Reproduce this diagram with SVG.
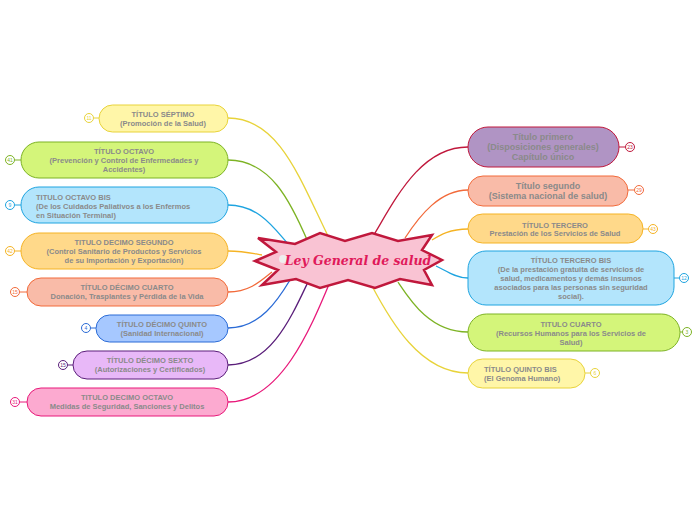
<svg xmlns="http://www.w3.org/2000/svg" width="696" height="520" viewBox="0 0 696 520">
<style>
.t{font-family:"Liberation Sans",Arial,sans-serif;font-size:7.5px;font-weight:bold;fill:#8a8a8a;text-anchor:middle}
.l{text-anchor:start}
.tb{font-family:"Liberation Sans",Arial,sans-serif;font-size:9px;font-weight:bold;fill:#8a8a8a;text-anchor:middle}
.b{fill:#fff;stroke-width:1}
.bt{font-family:"Liberation Sans",Arial,sans-serif;font-size:5px;text-anchor:middle}
.c{fill:none;stroke-width:1.3}
</style>
<rect width="696" height="520" fill="#fff"/>
<g id="connectors">
<path class="c" stroke="#e8d33a" d="M228,118 C280,118 300,180 330,240"/>
<path class="c" stroke="#7db324" d="M228,160 C270,160 290,200 308,242"/>
<path class="c" stroke="#1ea4e0" d="M228,205 C260,205 275,230 290,246"/>
<path class="c" stroke="#f5b324" d="M228,251 C245,251 255,254 262,255"/>
<path class="c" stroke="#f26a3a" d="M228,292 C250,292 262,280 272,272"/>
<path class="c" stroke="#2a6bd6" d="M228,328 C260,328 278,300 290,280"/>
<path class="c" stroke="#5a1e7a" d="M228,365 C270,365 290,320 308,282"/>
<path class="c" stroke="#e8197a" d="M228,402 C280,402 310,330 330,282"/>
<path class="c" stroke="#c0183c" d="M468,147 C420,147 395,200 372,238"/>
<path class="c" stroke="#f26a3a" d="M468,190 C440,190 420,215 405,238"/>
<path class="c" stroke="#f5b324" d="M468,229 C450,229 440,235 432,240"/>
<path class="c" stroke="#1ea4e0" d="M468,278 C455,278 445,270 436,266"/>
<path class="c" stroke="#7db324" d="M468,332 C430,332 410,300 398,282"/>
<path class="c" stroke="#e8d33a" d="M468,373 C420,373 390,320 372,286"/>
<g stroke-width="1">
<line x1="94" y1="118" x2="99" y2="118" stroke="#e8d33a"/>
<line x1="15" y1="160" x2="21" y2="160" stroke="#7db324"/>
<line x1="15" y1="205" x2="21" y2="205" stroke="#1ea4e0"/>
<line x1="15" y1="251" x2="21" y2="251" stroke="#f5b324"/>
<line x1="20" y1="292" x2="27" y2="292" stroke="#f26a3a"/>
<line x1="91" y1="328" x2="96" y2="328" stroke="#2a6bd6"/>
<line x1="68" y1="365" x2="73" y2="365" stroke="#5a1e7a"/>
<line x1="20" y1="402" x2="27" y2="402" stroke="#e8197a"/>
<line x1="619" y1="147" x2="625" y2="147" stroke="#c0183c"/>
<line x1="628" y1="190" x2="634" y2="190" stroke="#f26a3a"/>
<line x1="643" y1="229" x2="648" y2="229" stroke="#f5b324"/>
<line x1="674" y1="278" x2="679" y2="278" stroke="#1ea4e0"/>
<line x1="680" y1="332" x2="682" y2="332" stroke="#7db324"/>
<line x1="585" y1="373" x2="590" y2="373" stroke="#e8d33a"/>
</g>
</g>
<g id="center">
<polygon points="258,238 295,244 320,233 345,241 372,233 398,241 432,235 422,250 442,260 424,270 432,285 400,279 375,288 348,280 320,288 296,279 262,285 278,270 255,261 276,252" fill="#f9c3d3" stroke="#c0183c" stroke-width="2.5" stroke-linejoin="miter"/>
<circle cx="283" cy="259" r="4" fill="#eee"/>
<text x="358" y="265" font-family="'DejaVu Serif',serif" font-style="italic" font-weight="bold" font-size="12.5" fill="#e0195a" text-anchor="middle">Ley General de salud</text>
</g>
<g id="n-septimo"><rect x="99" y="105" width="129" height="27" rx="13.5" fill="#fff6a8" stroke="#e8d33a"/><text class="t" x="163" y="117">TÍTULO SÉPTIMO</text><text class="t" x="163" y="126">(Promoción de la Salud)</text><circle class="b" cx="89" cy="118" r="4.5" stroke="#e8d33a"/><text class="bt" x="89" y="120" fill="#e8d33a">11</text></g>
<g id="n-octavo"><rect x="21" y="142" width="207" height="36" rx="18" fill="#d4f57a" stroke="#7db324"/><text class="t" x="124" y="154">TÍTULO OCTAVO</text><text class="t" x="124" y="163">(Prevención y Control de Enfermedades y</text><text class="t" x="124" y="172">Accidentes)</text><circle class="b" cx="10" cy="160" r="4.5" stroke="#7db324"/><text class="bt" x="10" y="162" fill="#7db324">41</text></g>
<g id="n-octavobis"><rect x="21" y="187" width="207" height="36" rx="18" fill="#b3e5fc" stroke="#1ea4e0"/><text class="t l" x="36" y="200">TITULO OCTAVO BIS</text><text class="t l" x="36" y="209">(De los Cuidados Paliativos a los Enfermos</text><text class="t l" x="36" y="218">en Situación Terminal)</text><circle class="b" cx="10" cy="205" r="4.5" stroke="#1ea4e0"/><text class="bt" x="10" y="207" fill="#1ea4e0">9</text></g>
<g id="n-decimosegundo"><rect x="21" y="233" width="207" height="36" rx="18" fill="#ffd98a" stroke="#f5b324"/><text class="t" x="124" y="245">TITULO DECIMO SEGUNDO</text><text class="t" x="124" y="254">(Control Sanitario de Productos y Servicios</text><text class="t" x="124" y="263">de su Importación y Exportación)</text><circle class="b" cx="10" cy="251" r="4.5" stroke="#f5b324"/><text class="bt" x="10" y="253" fill="#f5b324">42</text></g>
<g id="n-decimocuarto"><rect x="27" y="278" width="201" height="28" rx="14" fill="#f9bba8" stroke="#f26a3a"/><text class="t" x="127" y="290">TÍTULO DÉCIMO CUARTO</text><text class="t" x="127" y="299">Donación, Trasplantes y Pérdida de la Vida</text><circle class="b" cx="15" cy="292" r="4.5" stroke="#f26a3a"/><text class="bt" x="15" y="294" fill="#f26a3a">15</text></g>
<g id="n-decimoquinto"><rect x="96" y="315" width="132" height="27" rx="13.5" fill="#a6c8ff" stroke="#2a6bd6"/><text class="t" x="162" y="327">TÍTULO DÉCIMO QUINTO</text><text class="t" x="162" y="336">(Sanidad Internacional)</text><circle class="b" cx="86" cy="328" r="4.5" stroke="#2a6bd6"/><text class="bt" x="86" y="330" fill="#2a6bd6">4</text></g>
<g id="n-decimosexto"><rect x="73" y="351" width="155" height="28" rx="14" fill="#e8b8f8" stroke="#5a1e7a"/><text class="t" x="150" y="363">TÍTULO DÉCIMO SEXTO</text><text class="t" x="150" y="372">(Autorizaciones y Certificados)</text><circle class="b" cx="63" cy="365" r="4.5" stroke="#5a1e7a"/><text class="bt" x="63" y="367" fill="#5a1e7a">15</text></g>
<g id="n-decimooctavo"><rect x="27" y="388" width="201" height="28" rx="14" fill="#fcaad0" stroke="#e8197a"/><text class="t" x="127" y="400">TITULO DECIMO OCTAVO</text><text class="t" x="127" y="409">Medidas de Seguridad, Sanciones y Delitos</text><circle class="b" cx="15" cy="402" r="4.5" stroke="#e8197a"/><text class="bt" x="15" y="404" fill="#e8197a">31</text></g>
<g id="n-primero"><rect x="468" y="127" width="151" height="40" rx="20" fill="#b094c4" stroke="#c0183c"/><text class="tb" x="543" y="140">Título primero</text><text class="tb" x="543" y="150">(Disposiciones generales)</text><text class="tb" x="543" y="160">Capítulo único</text><circle class="b" cx="630" cy="147" r="4.5" stroke="#c0183c"/><text class="bt" x="630" y="149" fill="#c0183c">23</text></g>
<g id="n-segundo"><rect x="468" y="176" width="160" height="30" rx="15" fill="#f9bba8" stroke="#f26a3a"/><text class="tb" x="548" y="189">Título segundo</text><text class="tb" x="548" y="199">(Sistema nacional de salud)</text><circle class="b" cx="639" cy="190" r="4.5" stroke="#f26a3a"/><text class="bt" x="639" y="192" fill="#f26a3a">29</text></g>
<g id="n-tercero"><rect x="468" y="214" width="175" height="29" rx="14.5" fill="#ffd98a" stroke="#f5b324"/><text class="t" x="555" y="228">TÍTULO TERCERO</text><text class="t" x="555" y="236">Prestación de los Servicios de Salud</text><circle class="b" cx="653" cy="229" r="4.5" stroke="#f5b324"/><text class="bt" x="653" y="231" fill="#f5b324">43</text></g>
<g id="n-tercerobis"><rect x="468" y="251" width="206" height="54" rx="18" fill="#b3e5fc" stroke="#1ea4e0"/><text class="t" x="571" y="263">TÍTULO TERCERO BIS</text><text class="t" x="571" y="272">(De la prestación gratuita de servicios de</text><text class="t" x="571" y="281">salud, medicamentos y demás insumos</text><text class="t" x="571" y="290">asociados para las personas sin seguridad</text><text class="t" x="571" y="299">social).</text><circle class="b" cx="684" cy="278" r="4.5" stroke="#1ea4e0"/><text class="bt" x="684" y="280" fill="#1ea4e0">12</text></g>
<g id="n-cuarto"><rect x="468" y="314" width="212" height="37" rx="18.5" fill="#d4f57a" stroke="#7db324"/><text class="t" x="571" y="327">TITULO CUARTO</text><text class="t" x="571" y="336">(Recursos Humanos para los Servicios de</text><text class="t" x="571" y="345">Salud)</text><circle class="b" cx="687" cy="332" r="4.5" stroke="#7db324"/><text class="bt" x="687" y="334" fill="#7db324">3</text></g>
<g id="n-quintobis"><rect x="468" y="359" width="117" height="29" rx="14.5" fill="#fff6a8" stroke="#e8d33a"/><text class="t l" x="484" y="372">TÍTULO QUINTO BIS</text><text class="t l" x="484" y="381">(El Genoma Humano)</text><circle class="b" cx="595" cy="373" r="4.5" stroke="#e8d33a"/><text class="bt" x="595" y="375" fill="#e8d33a">6</text></g>
</svg>
